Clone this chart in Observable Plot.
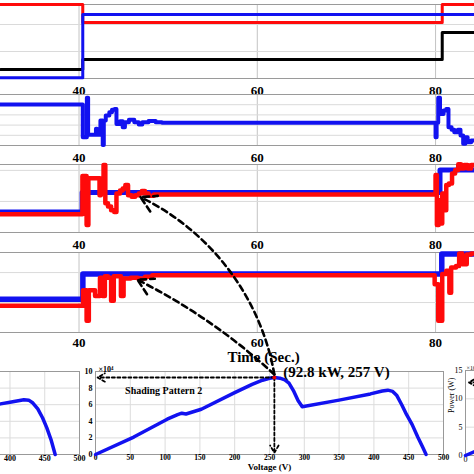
<!DOCTYPE html>
<html><head><meta charset="utf-8">
<script src="https://cdn.jsdelivr.net/npm/d3@7"></script>
<script src="https://cdn.jsdelivr.net/npm/@observablehq/plot@0.6"></script>
<style>
html,body{margin:0;padding:0;background:#fff;}
#fig{position:relative;width:474px;height:474px;overflow:hidden;background:#fff;}
#fig svg{position:absolute;}
</style></head><body><div id="fig"></div>
<script>
const RED = "#ff0a0a", BLUE = "#1212f0", BLACK = "#000";
// ---- time-domain panels (t in seconds, y in arbitrary units) ----
const timeTicks = [40, 60, 80];
const timeDomain = [31.19, 84.37];
const p1Red = [[31.19,2.74],[40.42,2.07],[80.75,2.74],[84.37,2.74]];
const p1Blue = [[31.19,0.03],[40.42,2.37],[84.37,2.37]];
const p1Black = [[31.19,0.33],[40.42,0.70],[80.75,1.70],[84.37,1.70]];
const p2Blue = [[31.19,4.02],[40.42,0.82],[40.88,4.67],[41.02,1.05],[41.9,1.63],[42.02,1.05],[42.4,2.45],[42.66,0.05],[42.78,2.45],[43.0,2.94],[43.4,3.27],[43.7,3.5],[44.0,3.59],[44.2,2.12],[44.6,2.38],[44.9,1.8],[45.15,2.29],[45.6,2.52],[46.2,2.29],[46.7,2.06],[47.1,2.29],[47.8,2.39],[48.6,2.29],[49.3,2.22],[80.0,0.82],[80.12,2.22],[80.3,4.67],[80.5,3.1],[80.9,3.43],[81.2,3.59],[81.45,1.8],[81.8,1.54],[82.1,1.31],[82.5,1.54],[82.8,0.98],[83.1,0.16],[83.35,0.82],[83.6,0.33],[84.0,0.49],[84.37,0.49]];
const p3Blue = [[31.19,0.66],[40.35,1.29],[80.5,2.01],[84.37,2.01]];
const p3Red = [[31.19,0.59],[40.38,1.82],[40.85,0.24],[41.05,1.75],[42.3,1.2],[42.45,1.74],[42.75,2.17],[42.95,0.94],[43.25,0.84],[43.6,0.72],[43.95,0.66],[44.2,1.26],[44.6,1.35],[44.9,1.42],[45.2,1.53],[45.5,1.2],[45.9,1.15],[46.3,1.2],[46.7,1.26],[47.05,1.34],[47.4,1.26],[47.8,1.18],[48.4,1.22],[80.0,1.85],[80.15,0.24],[80.35,1.04],[80.6,0.29],[80.75,1.26],[80.95,0.72],[81.2,1.53],[81.5,1.58],[81.85,1.9],[82.2,2.01],[82.55,2.2],[82.85,2.06],[83.2,2.17],[83.6,2.06],[84.0,2.17],[84.37,2.17]];
const p4Blue = [[31.19,1.11],[40.43,1.95],[80.7,2.62],[84.37,2.62]];
const p4Red = [[31.19,0.89],[40.45,1.41],[40.85,0.39],[41.1,1.41],[41.8,1.22],[42.35,1.83],[42.65,1.22],[42.9,1.88],[43.25,1.83],[43.6,1.06],[43.9,1.88],[44.7,1.22],[45.0,1.8],[45.8,1.83],[46.6,1.8],[47.4,1.86],[48.2,1.91],[79.9,1.61],[80.3,0.39],[80.75,1.95],[81.2,2.06],[81.55,1.33],[81.75,2.17],[82.3,2.22],[82.65,2.64],[83.0,2.28],[83.5,2.6],[84.0,2.64],[84.37,2.64]];
const timeAxisLabel = [{t: 60.7, text: "Time (Sec.)"}];
// ---- P-V curves (V in volts, P in x10^4 W) ----
const voltTicks = [0,50,100,150,200,250,300,350,400,450,500];
const leftVoltTicks = [400,450,500];
const rightVoltTicks = [0];
const powerTicks = [0,2,4,6,8,10];
const rightPowerTicks = [0,5,10,15];
const leftCurve = [[372,5.9],[386.5,6.1],[400,6.3],[410,6.45],[420,6.6],[427,6.55],[433,6.2],[440,5.5],[447,4.4],[453,3.2],[459,1.8],[465,0]];
const centerCurve = [[0,0],[55,2.1],[103,4.25],[118,4.8],[124,4.98],[130,4.88],[152,5.45],[200,7.45],[225,8.45],[240,8.95],[250,9.18],[257,9.28],[265,9.2],[272,9.0],[278,8.6],[285,7.6],[291,6.5],[297,5.75],[350,6.55],[395,7.3],[412,7.65],[420,7.75],[427,7.6],[433,7.1],[440,6.0],[447,4.8],[455,3.6],[463,2.1],[470,0.9],[475,0]];
const rightCurve = [[0,0],[15,0.8]];
const mpp = [{v: 257, p: 9.28, label: "(92.8 kW, 257 V)"}];
const mppGuides = [{v1:257,p1:9.28,v2:3,p2:9.28},{v1:257,p1:9.28,v2:257,p2:0.2}];
const patternLabel = [{v: 98, p: 7.7, text: "Shading Pattern 2"}];
const rightGuide = [{v1:150,p1:12.9,v2:5,p2:12.9}];
const arrowTargets = [{panel: 2, t: 46.9, v: 1.14, bend: -27},{panel: 3, t: 46.56, v: 1.76, bend: -8}];

const fig = document.getElementById("fig");
function place(chart, left, top){ chart.style.left = left + "px"; chart.style.top = top + "px"; fig.appendChild(chart); return chart; }
const serif = "'Liberation Serif','DejaVu Serif',serif";
const baseStyle = (size, weight = "bold") => ({background: "transparent", overflow: "visible", fontFamily: serif, fontSize: size + "px", fontWeight: weight, color: "#000"});
const stepLine = (data, color, w) => Plot.line(data, {x: d => d[0], y: d => d[1], stroke: color, strokeWidth: w, curve: "step-after"});

const panels = [
  {top: 0, height: 94, mb: 16, ymax: 2.74, grid: [1,2], pad: 7, series: [[p1Black,BLACK,3],[p1Red,RED,3],[p1Blue,BLUE,3]]},
  {top: 90, height: 72, mb: 17, ymax: 5, grid: [1,2,3,4], pad: 7, series: [[p2Blue,BLUE,4]]},
  {top: 160, height: 88, mb: 16, ymax: 2.19, grid: [1,2], pad: 7, series: [[p3Blue,BLUE,5],[p3Red,RED,4.5]]},
  {top: 248, height: 100, mb: 16, ymax: 2.67, grid: [1,2], pad: 5, series: [[p4Blue,BLUE,5.5],[p4Red,RED,4.5]], label: true}
];
const charts = panels.map(p => place(Plot.plot({
  width: 474, height: p.height, marginTop: 4, marginBottom: p.mb, marginLeft: 0, marginRight: 0,
  x: {domain: timeDomain, label: null},
  y: {domain: [0, p.ymax], label: null, axis: null},
  style: baseStyle(13),
  marks: [
    Plot.gridX(timeTicks, {stroke: "#c4c4c4", strokeOpacity: 1}),
    Plot.gridY(p.grid, {stroke: "#dadada", strokeOpacity: 1}),
    Plot.ruleY([0, p.ymax], {stroke: "#9a9a9a"}),
    Plot.axisX(timeTicks, {tickSize: 0, tickPadding: p.pad, label: null}),
    ...p.series.map(s => stepLine(s[0], s[1], s[2])),
    ...(p.label ? [Plot.text(timeAxisLabel, {x: "t", text: "text", frameAnchor: "bottom", dy: 29, fontSize: 15})] : [])
  ]
}), 0, p.top));

// left P-V inset (partially visible)
place(Plot.plot({
  width: 90, height: 112, marginLeft: 0, marginRight: 1, marginTop: 9, marginBottom: 20,
  x: {domain: [372, 500], label: null}, y: {domain: [0, 10], label: null, axis: null},
  style: baseStyle(8),
  marks: [
    Plot.gridX(leftVoltTicks, {stroke: "#dcdcdc", strokeOpacity: 1}),
    Plot.gridY(powerTicks, {stroke: "#dcdcdc", strokeOpacity: 1}),
    Plot.frame({stroke: "#999"}),
    Plot.axisX(leftVoltTicks, {tickSize: 0, tickPadding: 1, label: null}),
    Plot.line(leftCurve, {x: d => d[0], y: d => d[1], stroke: BLUE, strokeWidth: 3.5})
  ]
}), -10, 362);

// centre P-V inset
const centerLeft = 78, centerTop = 358;
const center = place(Plot.plot({
  width: 367, height: 116, marginLeft: 17, marginRight: 2, marginTop: 13, marginBottom: 20,
  x: {domain: [0, 500], label: null}, y: {domain: [0, 10], label: null},
  style: baseStyle(8),
  marks: [
    Plot.gridX(voltTicks, {stroke: "#dcdcdc", strokeOpacity: 1}),
    Plot.gridY(powerTicks, {stroke: "#dcdcdc", strokeOpacity: 1}),
    Plot.frame({stroke: "#999"}),
    Plot.axisX(voltTicks, {tickSize: 0, tickPadding: 0, fontSize: 7.5, label: null}),
    Plot.axisY(powerTicks, {tickSize: 0, tickPadding: 3, label: null}),
    Plot.text(["×10⁴"], {text: d => d, frameAnchor: "top-left", dx: 3, dy: -5, textAnchor: "start", fontSize: 8}),
    Plot.text(["Voltage (V)"], {text: d => d, frameAnchor: "bottom", dy: 15, fontSize: 9}),
    Plot.text(patternLabel, {x: "v", y: "p", text: "text", fontSize: 10}),
    Plot.line(centerCurve, {x: d => d[0], y: d => d[1], stroke: BLUE, strokeWidth: 3.5}),
    Plot.arrow(mppGuides, {x1: "v1", y1: "p1", x2: "v2", y2: "p2", stroke: "#000", strokeWidth: 1.8, strokeDasharray: "3,2.5", headLength: 7}),
    Plot.dot(mpp, {x: "v", y: "p", r: 2, fill: "#e00"}),
    Plot.text(mpp, {x: "v", y: "p", text: "label", textAnchor: "start", dx: 9, dy: -5, fontSize: 15})
  ]
}), centerLeft, centerTop);

// right P-V inset (partially visible)
place(Plot.plot({
  width: 370, height: 116, marginLeft: 20, marginRight: 2, marginTop: 12, marginBottom: 19,
  x: {domain: [0, 500], label: null}, y: {domain: [0, 15], label: null},
  style: baseStyle(8, "normal"),
  marks: [
    Plot.gridX(voltTicks, {stroke: "#dcdcdc", strokeOpacity: 1}),
    Plot.gridY(rightPowerTicks, {stroke: "#dcdcdc", strokeOpacity: 1}),
    Plot.frame({stroke: "#999"}),
    Plot.axisX(rightVoltTicks, {tickSize: 0, tickPadding: 1, label: null}),
    Plot.axisY(rightPowerTicks, {tickSize: 0, tickPadding: 3, label: null}),
    Plot.text(["Power (W)"], {text: d => d, frameAnchor: "left", rotate: -90, dx: -14, fontSize: 8}),
    Plot.text(["×10⁴"], {text: d => d, frameAnchor: "top-left", dx: 1, dy: -5, textAnchor: "start", fontSize: 6}),
    Plot.line(rightCurve, {x: d => d[0], y: d => d[1], stroke: BLUE, strokeWidth: 3.5}),
    Plot.arrow(rightGuide, {x1: "v1", y1: "p1", x2: "v2", y2: "p2", stroke: "#000", strokeWidth: 1.8, strokeDasharray: "3,2.5", headLength: 7})
  ]
}), 445, 358);

// overlay: curved dashed arrows from the MPP to the time panels
const peakX = center.scale("x").apply(mpp[0].v) + centerLeft;
const peakY = center.scale("y").apply(mpp[0].p) + centerTop;
const links = arrowTargets.map(a => ({
  x1: peakX, y1: peakY - 3,
  x2: charts[a.panel].scale("x").apply(a.t),
  y2: charts[a.panel].scale("y").apply(a.v) + panels[a.panel].top,
  bend: a.bend
}));
place(Plot.plot({
  width: 474, height: 474, margin: 0,
  x: {type: "identity", axis: null}, y: {type: "identity", axis: null},
  style: {background: "transparent", overflow: "visible"},
  marks: links.map(l => Plot.arrow([l], {x1: "x1", y1: "y1", x2: "x2", y2: "y2", bend: l.bend, stroke: "#000", strokeWidth: 2.6, strokeDasharray: "6,4", headLength: 10}))
}), 0, 0);
</script></body></html>
